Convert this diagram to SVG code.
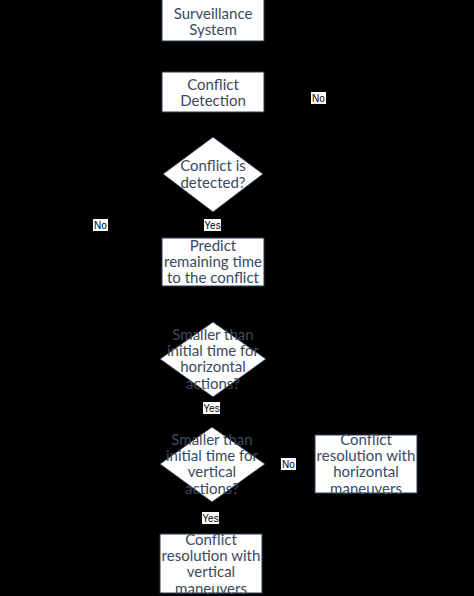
<svg xmlns="http://www.w3.org/2000/svg" width="474" height="596" viewBox="0 0 474 596">
<defs>
<marker id="arr" viewBox="0 0 10 10" refX="10" refY="5" markerWidth="7" markerHeight="7" orient="auto"><path d="M0,0 L10,5 L0,10 z" fill="#000"/></marker>
<style>
.box{fill:#fff;stroke:#2c3e50;stroke-width:1}
.t{font-family:Lato,"Liberation Sans",sans-serif;font-size:15px;fill:#3b4a5c;text-anchor:middle}
.c{fill:none;stroke:#000;stroke-width:1.5;marker-end:url(#arr)}
.lb{fill:#fff}
.lt{font-family:"Liberation Sans",Arial,sans-serif;font-size:10px;fill:#000;text-anchor:middle}
</style>
</defs>
<rect width="474" height="596" fill="#000"/>
<g id="connectors">
<path class="c" d="M213,41 V72"/>
<path class="c" d="M213,112 V137"/>
<path class="c" d="M213,212 V238"/>
<path class="c" d="M213,286 V322"/>
<path class="c" d="M213,397 V427"/>
<path class="c" d="M212,502 V534"/>
<path class="c" d="M265,464 H315"/>
<path class="c" d="M263,173 H318 V22 H264"/>
<path class="c" d="M160,358 H100 V92 H162"/>
<g id="lbl-yes1"><rect class="lb" x="204" y="219" width="17" height="12"/><text class="lt" x="212.5" y="229">Yes</text></g>
<g id="lbl-yes2"><rect class="lb" x="203" y="402" width="17" height="12"/><text class="lt" x="211.5" y="412">Yes</text></g>
<g id="lbl-yes3"><rect class="lb" x="202" y="512" width="17" height="12"/><text class="lt" x="210.5" y="522">Yes</text></g>
<g id="lbl-no1"><rect class="lb" x="311" y="92" width="15" height="12"/><text class="lt" x="318.5" y="102">No</text></g>
<g id="lbl-no2"><rect class="lb" x="93" y="219" width="15" height="12"/><text class="lt" x="100.5" y="229">No</text></g>
<g id="lbl-no3"><rect class="lb" x="281" y="458" width="15" height="12"/><text class="lt" x="288.5" y="468">No</text></g>
</g>
<g id="surveillance"><rect class="box" x="162" y="-1" width="102" height="42"/><text class="t" x="213" y="19">Surveillance</text><text class="t" x="213" y="35">System</text></g>
<g id="detection"><rect class="box" x="162" y="72" width="102" height="40"/><text class="t" x="213" y="90">Conflict</text><text class="t" x="213" y="106">Detection</text></g>
<g id="detected"><polygon class="box" points="213,137 263,174 213,212 163,174"/><text class="t" x="213" y="171">Conflict is</text><text class="t" x="213" y="188">detected?</text></g>
<g id="predict"><rect class="box" x="162" y="238" width="102" height="48"/><text class="t" x="213" y="251">Predict</text><text class="t" x="213" y="267">remaining time</text><text class="t" x="213" y="283">to the conflict</text></g>
<g id="horiz-q"><polygon class="box" points="213,322 266,359 213,397 160,359"/><text class="t" x="213" y="340">Smaller than</text><text class="t" x="213" y="356">initial time for</text><text class="t" x="213" y="372">horizontal</text><text class="t" x="213" y="389">actions?</text></g>
<g id="vert-q"><polygon class="box" points="212,427 265,464 212,502 160,464"/><text class="t" x="212" y="445">Smaller than</text><text class="t" x="212" y="461">initial time for</text><text class="t" x="212" y="477">vertical</text><text class="t" x="212" y="494">actions?</text></g>
<g id="horiz-res"><rect class="box" x="315" y="435" width="102" height="58"/><text class="t" x="366" y="445">Conflict</text><text class="t" x="366" y="461">resolution with</text><text class="t" x="366" y="477">horizontal</text><text class="t" x="366" y="494">maneuvers</text></g>
<g id="vert-res"><rect class="box" x="160" y="534" width="102" height="59"/><text class="t" x="211" y="545">Conflict</text><text class="t" x="211" y="561">resolution with</text><text class="t" x="211" y="577">vertical</text><text class="t" x="211" y="594">maneuvers</text></g>
</svg>
